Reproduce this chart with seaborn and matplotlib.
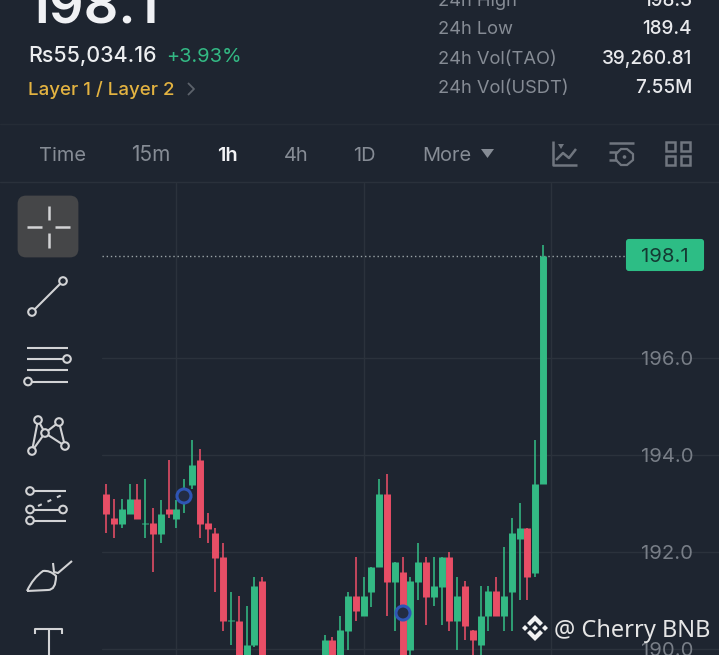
import numpy as np
import pandas as pd
import matplotlib
matplotlib.use("Agg")
import matplotlib.pyplot as plt
from matplotlib.patches import FancyBboxPatch, Circle, Polygon, Rectangle
from matplotlib.path import Path
from matplotlib.patches import PathPatch
import seaborn as sns

# candle values, nan = candle is below the visible area
n = np.nan
opens = [193.20, 192.70, 192.58, 192.78, 193.10, 192.58, 192.59, 192.38, 192.89, 192.69,
         193.07, 193.39, 193.90, 192.59, 192.40, 191.89, 190.57, 190.58, 189.70, 190.08,
         191.40, n, n, n, n, n, n, n, 189.70, 190.19,
         189.70, 190.38, 191.09, 190.68, 191.18, 191.70, 193.20, 191.38, 191.59, 189.98,
         191.38, 191.79, 191.08, 191.27, 191.89, 190.57, 191.29, 190.39, 190.08, 190.68,
         191.19, 190.68, 191.18, 192.27, 192.49, 191.57, 193.40]
closes = [192.78, 192.58, 192.89, 193.10, 192.69, 192.59, 192.38, 192.78, 192.78, 192.89,
          193.24, 193.79, 192.58, 192.48, 191.88, 190.57, 190.58, 189.70, 190.08, 191.29,
          189.70, n, n, n, n, n, n, n, 190.19, 189.70,
          190.39, 191.09, 190.78, 191.09, 191.70, 193.20, 191.38, 191.79, 189.70, 191.40,
          191.79, 191.08, 191.29, 191.89, 190.57, 191.09, 190.47, 190.19, 190.69, 191.19,
          190.68, 191.09, 192.40, 192.49, 191.48, 193.40, 198.10]
highs = [193.40, 193.10, 193.10, 193.40, 193.40, 193.50, 192.90, 193.07, 193.90, 193.07,
         193.50, 194.31, 194.12, 192.80, 192.49, 192.19, 191.18, 191.09, 190.89, 191.49,
         191.48, n, n, n, n, n, n, n, 190.29, 190.25,
         190.69, 191.18, 191.90, 191.49, 191.70, 193.50, 193.61, 191.79, 191.90, 191.48,
         192.19, 191.90, 191.89, 191.89, 192.00, 191.49, 191.40, 190.39, 191.29, 191.29,
         191.49, 192.10, 192.70, 193.00, 192.49, 194.31, 198.32]
lows = [192.40, 192.28, 192.50, 192.78, 192.69, 192.28, 191.58, 192.18, 192.70, 192.50,
        192.80, 193.30, 192.28, 192.19, 191.18, 190.38, 190.08, 189.60, 189.60, 190.05,
        189.60, n, n, n, n, n, n, n, 189.70, 189.60,
        189.70, 189.98, 190.57, 190.68, 190.87, 191.70, 190.68, 190.38, 189.60, 189.88,
        191.00, 190.49, 190.89, 190.49, 190.38, 189.98, 190.19, 189.77, 189.88, 190.38,
        190.68, 190.38, 190.38, 191.00, 191.00, 191.48, 193.40]
price_ticks = [190.0, 192.0, 194.0, 196.0]
day_lines = [9, 33, 57]
last_price = 198.1

# header texts
stat_names = ["24h High", "24h Low", "24h Vol(TAO)", "24h Vol(USDT)"]
stat_values = ["198.3", "189.4", "39,260.81", "7.55M"]
tabs = ["Time", "15m", "1h", "4h", "1D", "More"]

BG = "#1e2530"
GREEN = "#33b984"
RED = "#e84e66"
GREY = "#868c95"
ICON = "#d2d3d5"
GRID = "#2b323c"

sns.set_theme(style="dark")
plt.rcParams["font.family"] = ["Inter", "DejaVu Sans"]
plt.rcParams["patch.edgecolor"] = "none"

idx = np.arange(len(opens))
candles = pd.DataFrame({"i": idx, "open": opens, "close": closes, "high": highs, "low": lows})
candles["dir"] = np.where(candles["close"] >= candles["open"], "up", "down")
candles = candles.dropna()
# doji candles still need a thin body
flat = (candles["open"] - candles["close"]).abs() < 0.015
candles.loc[flat, "close"] = candles.loc[flat, "open"] + 0.025

bodies = candles.melt(id_vars=["i", "dir"], value_vars=["open", "close"], value_name="price")
wicks = candles.melt(id_vars=["i", "dir"], value_vars=["high", "low"], value_name="price")
colors = {"up": GREEN, "down": RED}

fig = plt.figure(figsize=(7.19, 6.55), dpi=100, facecolor=BG)

# chart area
ax = fig.add_axes([102 / 719, 0, 617 / 719, 472 / 655], facecolor=BG)
for c in day_lines:
    ax.axvline(c, color=GRID, lw=1, zorder=0)
ax.set_yticks(price_ticks)
ax.yaxis.grid(True, color=GRID, lw=1)
ax.xaxis.grid(False)
ax.set_axisbelow(True)

sns.lineplot(data=wicks, x="i", y="price", units="i", estimator=None, hue="dir", palette=colors,
             lw=1.15, legend=False, ax=ax, solid_capstyle="butt")
sns.lineplot(data=bodies, x="i", y="price", units="i", estimator=None, hue="dir", palette=colors,
             lw=5.0, legend=False, ax=ax, solid_capstyle="butt")

ax.set_xlim(-0.55, 78.56)
ax.set_ylim(189.876, 199.608)
ax.set_xlabel("")
ax.set_ylabel("")
ax.set_xticks([])
ax.yaxis.tick_right()
ax.set_yticklabels([f"{t:.1f}" for t in price_ticks])
# pad is in points, 78 px back from the right edge
ax.tick_params(axis="y", length=0, pad=-56, labelsize=14.6, labelcolor="#787e87")
for s in ax.spines.values():
    s.set_visible(False)

# last price dotted line
ax.plot([-0.55, 66.5], [last_price, last_price], color="#9aa3a6", lw=1, ls=(0, (1, 2)), zorder=1)

# overlay in pixel coordinates for the app interface
ui = fig.add_axes([0, 0, 1, 1], facecolor="none")
ui.set_xlim(0, 719)
ui.set_ylim(655, 0)
ui.axis("off")


def line(xs, ys, color=ICON, lw=1.5, **kw):
    ui.plot(xs, ys, color=color, lw=lw, solid_capstyle="butt", **kw)


def ring(x, y, r=3.8, color=ICON, lw=1.5):
    ui.add_patch(Circle((x, y), r, fc=BG, ec=color, lw=lw, zorder=5))


def label(x, y, s, size, color, ha="left", weight="normal"):
    ui.text(x, y, s, fontsize=size, color=color, ha=ha, va="baseline", fontweight=weight)


# markers on the candles
for cx, cy in [(184, 496), (403, 613)]:
    ui.add_patch(Circle((cx, cy), 7, fc="#232c42", ec="#2f55b5", lw=2.2, zorder=6))

# price label box
ui.add_patch(FancyBboxPatch((627, 240), 76, 30, boxstyle="round,pad=0,rounding_size=2", fc="#2dbd85", ec="#2dbd85", lw=1.5))
label(665, 262, "198.1", 14.6, "#143a33", ha="center")

# header
label(27, 23, "198.1", 39, "#f0f1f4", weight="semibold")
label(28, 62, "Rs55,034.16", 15.4, "#eceef0", weight="medium")
label(166, 62, "+3.93%", 14.4, GREEN)
label(28, 95, "Layer 1 / Layer 2", 13.5, "#e3b341", weight="medium")
line([188, 194, 188], [83, 89, 95], color="#5c626b", lw=1.3)
for name, val, y in zip(stat_names, stat_values, [6, 34, 64, 93]):
    label(438, y, name, 13.2, GREY)
    label(692, y, val, 13.6, "#e8e9ec", ha="right", weight="medium")

ui.plot([0, 719], [124, 124], color="#252c36", lw=1)
ui.plot([0, 719], [182, 182], color="#2a313b", lw=1)

# interval tabs
for s, x in zip(tabs, [39, 131, 217, 284, 353, 422]):
    active = s == "1h"
    label(x, 161, s, 15 if s == "15m" else 14.4, "#f2f3f5" if active else GREY, weight="semibold" if active else "normal")
ui.add_patch(Polygon([(481, 149), (494, 149), (487.5, 158)], fc=GREY, ec="none"))

# toolbar icons, top right
TB = "#70767f"
line([553, 553, 577], [141, 165, 165], color=TB, lw=1.8)
line([556, 563, 569, 576], [160, 153, 158, 149], color=TB, lw=1.8)
ui.add_patch(Polygon([(558, 144), (564, 144), (561, 149)], fc=TB, ec="none"))
line([609, 634], [143, 143], color=TB, lw=1.8)
line([609, 617], [152, 152], color=TB, lw=1.8)
line([609, 617], [160, 160], color=TB, lw=1.8)
ui.add_patch(Polygon([(621, 149), (627, 149), (633, 154), (633, 160), (627, 165), (621, 165), (616, 160), (616, 154)],
                     fc=BG, ec=TB, lw=1.6))
ui.add_patch(Circle((624.5, 157), 1.8, fc=TB, ec="none"))
for gx in [666, 681]:
    for gy in [142, 156]:
        ui.add_patch(Rectangle((gx, gy), 9, 9, fc="none", ec=TB, lw=1.8))

# left drawing tools
ui.add_patch(FancyBboxPatch((19, 197), 58, 59, boxstyle="round,pad=0,rounding_size=7", fc="#454648", ec="#454648", lw=2))
line([48.5, 48.5], [206, 220], lw=1.8)
line([48.5, 48.5], [233, 248], lw=1.8)
line([27, 42], [227, 227], lw=1.8)
line([55, 70], [227, 227], lw=1.8)

line([32, 63], [312, 281])
ring(32, 312)
ring(63, 281)

line([27, 68], [348, 348])
line([27, 67], [359, 359])
line([27, 68], [370, 370])
line([28, 68], [381.5, 381.5])
ring(67, 359)
ring(28, 381.5)

line([32, 38], [451, 420])
line([38, 45], [420, 433])
line([45, 32], [433, 451])
line([45, 59], [433, 422])
line([59, 65], [422, 446])
line([45, 65], [433, 446])
for px, py in [(38, 420), (59, 422), (45, 433), (65, 446), (32, 451)]:
    ring(px, py)

line([30, 66], [491, 491])
line([30, 63], [509.5, 509.5])
line([30, 66], [520.5, 520.5])
line([38, 62], [506, 495], ls=(0, (2, 3)))
for px, py in [(30, 491), (30, 509.5), (63, 509.5), (30, 520.5)]:
    ring(px, py)

brush = Path([(27, 591), (33, 578), (43, 571), (50, 570), (56, 576), (56, 590), (48, 590), (27, 591)],
             [Path.MOVETO, Path.CURVE3, Path.CURVE3, Path.CURVE3, Path.CURVE3, Path.CURVE3, Path.CURVE3, Path.LINETO])
ui.add_patch(PathPatch(brush, fc="none", ec=ICON, lw=1.5))
line([53, 54, 58, 72], [563, 572, 573, 561])

line([35, 35, 62, 62], [634, 628.5, 628.5, 634])
line([48.5, 48.5], [628.5, 655])

# watermark
wx, wy = 535, 628
for pts in [[(wx, wy - 13), (wx + 8, wy - 5), (wx + 5, wy - 2), (wx, wy - 7), (wx - 5, wy - 2), (wx - 8, wy - 5)],
            [(wx, wy + 13), (wx + 8, wy + 5), (wx + 5, wy + 2), (wx, wy + 7), (wx - 5, wy + 2), (wx - 8, wy + 5)],
            [(wx, wy - 3), (wx + 3, wy), (wx, wy + 3), (wx - 3, wy)],
            [(wx - 13, wy), (wx - 10, wy - 3), (wx - 7, wy), (wx - 10, wy + 3)],
            [(wx + 13, wy), (wx + 10, wy - 3), (wx + 7, wy), (wx + 10, wy + 3)]]:
    ui.add_patch(Polygon(pts, fc="#f2f2f2", ec="none", zorder=7))
ui.text(554, 637, "@ Cherry BNB", fontsize=17, color="#e6e6e6", family="Noto Sans", va="baseline", zorder=7)

fig.savefig("out.png", dpi=100, facecolor=BG)
